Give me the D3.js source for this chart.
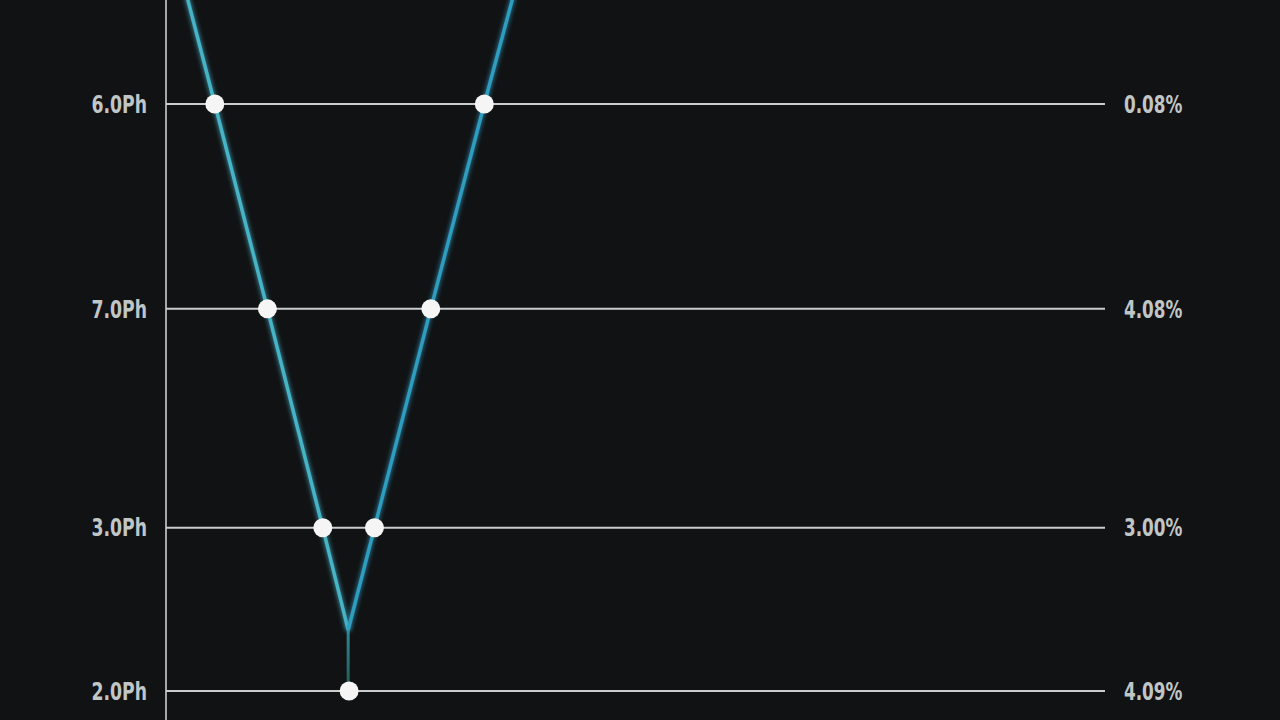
<!DOCTYPE html>
<html>
<head>
<meta charset="utf-8">
<script src="https://cdn.jsdelivr.net/npm/d3@7"></script>
<style>
  html, body { margin: 0; padding: 0; background: #111214; }
  svg { display: block; }
</style>
</head>
<body>
<svg id="chart" width="1280" height="720"></svg>
<script>
// ---- data ----
const levels = [100, 65.1, 27.8, 0];                 // gridline values
const leftLabels = ["6.0Ph", "7.0Ph", "3.0Ph", "2.0Ph"];
const rightLabels = ["0.08%", "4.08%", "3.00%", "4.09%"];
const leftBranchX = [2.2, 5.2, 10.8, 16.7, 19.4];    // x at y = top, levels..., vertex
const rightBranchX = [19.4, 22.2, 28.2, 33.9, 37.0]; // x at vertex, levels..., top
const branchY = [118.5, 100, 65.1, 27.8, 10.4];
const vertexY = 10.4;
const stemX = 19.4;
const bottomDotX = 19.5;
const leftDotsX = [5.2, 10.8, 16.7];
const rightDotsX = [33.9, 28.2, 22.2];
const dotLevels = [100, 65.1, 27.8];

// ---- scales ----
const x = d3.scaleLinear().domain([0, 100]).range([166, 1105]);
const y = d3.scaleLinear().domain([0, 100]).range([691, 104]);

const svg = d3.select("#chart");
svg.append("rect").attr("width", 1280).attr("height", 720).attr("fill", "#111214");

const defs = svg.append("defs");
const glow = defs.append("filter").attr("id", "glow").attr("x", "-50%").attr("y", "-50%").attr("width", "200%").attr("height", "200%");
glow.append("feGaussianBlur").attr("stdDeviation", 2.5).attr("result", "b");
const m = glow.append("feMerge");
m.append("feMergeNode").attr("in", "b");
m.append("feMergeNode").attr("in", "SourceGraphic");

const stemGrad = defs.append("linearGradient").attr("id", "stemGrad")
  .attr("gradientUnits", "userSpaceOnUse")
  .attr("x1", 0).attr("y1", y(vertexY)).attr("x2", 0).attr("y2", y(0));
stemGrad.append("stop").attr("offset", "0%").attr("stop-color", "#2f8795");
stemGrad.append("stop").attr("offset", "100%").attr("stop-color", "#1f5a52");

// vertical axis line
svg.append("line")
  .attr("x1", x(0)).attr("x2", x(0))
  .attr("y1", 0).attr("y2", 720)
  .attr("stroke", "#a3a8a8").attr("stroke-width", 2);

// gridlines
svg.selectAll("line.grid").data(levels).join("line")
  .attr("class", "grid")
  .attr("x1", x(0)).attr("x2", x(100))
  .attr("y1", d => y(d)).attr("y2", d => y(d))
  .attr("stroke", "#c9cdcd").attr("stroke-width", 2);

// labels
const labelFont = "'DejaVu Sans Condensed', 'DejaVu Sans', sans-serif";
svg.selectAll("text.left").data(levels).join("text")
  .attr("class", "left")
  .attr("transform", d => `translate(147,${y(d)}) scale(0.8,1)`)
  .attr("dy", "0.36em")
  .attr("text-anchor", "end")
  .attr("font-family", labelFont).attr("font-weight", "bold").attr("font-size", 24)
  .attr("fill", "#c0c6c6")
  .text((d, i) => leftLabels[i]);

svg.selectAll("text.right").data(levels).join("text")
  .attr("class", "right")
  .attr("transform", d => `translate(1124,${y(d)}) scale(0.78,1)`)
  .attr("dy", "0.36em")
  .attr("text-anchor", "start")
  .attr("font-family", labelFont).attr("font-weight", "bold").attr("font-size", 24)
  .attr("fill", "#c0c6c6")
  .text((d, i) => rightLabels[i]);

// stem
svg.append("line")
  .attr("x1", x(stemX)).attr("x2", x(stemX))
  .attr("y1", y(vertexY)).attr("y2", y(0))
  .attr("stroke", "url(#stemGrad)").attr("stroke-width", 3);

// V line
const line = d3.line().x(d => x(d[0])).y(d => y(d[1]));
const leftPts = leftBranchX.map((v, i) => [v, branchY[i]]);
const rightPts = rightBranchX.map((v, i) => [v, branchY[branchY.length - 1 - i]]);
svg.append("path")
  .datum(leftPts)
  .attr("d", line)
  .attr("fill", "none")
  .attr("stroke", "#47b3c6").attr("stroke-width", 3.5)
  .attr("filter", "url(#glow)");
svg.append("path")
  .datum(rightPts)
  .attr("d", line)
  .attr("fill", "none")
  .attr("stroke", "#2f9dc0").attr("stroke-width", 3.5)
  .attr("filter", "url(#glow)");

// dots
const dots = [];
dotLevels.forEach((lv, i) => { dots.push([leftDotsX[i], lv]); dots.push([rightDotsX[i], lv]); });
dots.push([bottomDotX, 0]);
svg.selectAll("circle.dot").data(dots).join("circle")
  .attr("class", "dot")
  .attr("cx", d => x(d[0])).attr("cy", d => y(d[1]))
  .attr("r", 9.5)
  .attr("fill", "#f5f5f5");
</script>
</body>
</html>
